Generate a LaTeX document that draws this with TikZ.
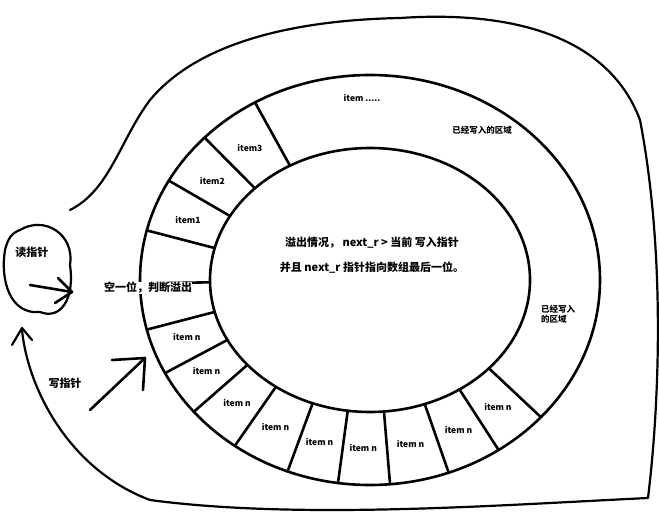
\documentclass[tikz,border=0pt]{standalone}
\usepackage{fontspec}
\setmainfont{Noto Sans CJK SC}
\begin{document}
\begin{tikzpicture}[x=1pt,y=-1pt,line width=2.6pt,line cap=round,line join=round,
  lbl/.style={font=\bfseries\fontsize{8.5}{10}\selectfont,inner sep=1pt},
  big/.style={font=\bfseries\fontsize{11}{14}\selectfont,inner sep=1pt,align=left}]
\fill[white] (0,0) rectangle (659,524);
\useasboundingbox (0,0) rectangle (659,524);
\def\cx{370}\def\cy{280}
% outer scribble
\draw[line width=2.2pt] (22,330) .. controls (28,390) and (70,470) .. (150,500)
  .. controls (300,520) and (500,505) .. (648,498)
  .. controls (660,400) and (665,250) .. (640,120)
  .. controls (610,40) and (520,10) .. (400,18)
  .. controls (300,20) and (200,40) .. (150,100)
  .. controls (120,140) and (110,190) .. (70,210);
\draw[line width=2.2pt] (12,345) -- (22,328) -- (32,340);
% reader blob
\draw[line width=2.2pt] (20,230) .. controls (45,215) and (75,235) .. (70,265)
  .. controls (75,300) and (60,320) .. (40,312)
  .. controls (10,315) and (0,280) .. (5,250) .. controls (8,238) and (12,233) .. (20,230);
% ring
\draw (\cx,\cy) ellipse [x radius=230,y radius=205];
\draw (\cx,\cy) ellipse [x radius=160,y radius=132];
\foreach \a in {120,136,151,166,181,194,207,220,234,249,262,275,290,304,318}
  \draw ({\cx+160*cos(\a)},{\cy-132*sin(\a)}) -- ({\cx+230*cos(\a)},{\cy-205*sin(\a)});
% labels
\node[lbl] (i3) at ({\cx+195*cos(128)},{\cy-168*sin(128)}) {item3};
\node[lbl] (i2) at ({\cx+195*cos(144)},{\cy-168*sin(144)}) {item2};
\node[lbl] (i1) at ({\cx+195*cos(159)},{\cy-168*sin(159)}) {item1};
\foreach \a [count=\k] in {200,213,227,241,255,268,282,297,311}
  \node[lbl] (n\k) at ({\cx+195*cos(\a)},{\cy-168*sin(\a)}) {item n};
\node[lbl] (idots) at (362,98) {item .....};
\node[lbl] (w1) at (482,130) {已经写入的区域};
\node[lbl,align=left] (w2) at (558,314) {已经写入\\的区域};
\node[big] (c1) at (372,243) {溢出情况，\ next\_r > 当前 写入指针};
\node[big] (c2) at (372,268) {并且 next\_r 指针指向数组最后一位。};
\node[big,fill=white,inner sep=0pt] (e) at (148,288) {空一位，判断溢出};
\node[big] (rd) at (32,252) {读指针};
\node[big] (wr) at (65,383) {写指针};
% arrows
\coordinate (ra) at (30,285); \coordinate (rb) at (72,292);
\draw (ra) -- (rb); \draw (58,278) -- (rb) -- (55,303);
\coordinate (wa) at (90,410); \coordinate (wb) at (145,358);
\draw (wa) -- (wb); \draw (112,360) -- (wb) -- (143,390);
\end{tikzpicture}
\end{document}
